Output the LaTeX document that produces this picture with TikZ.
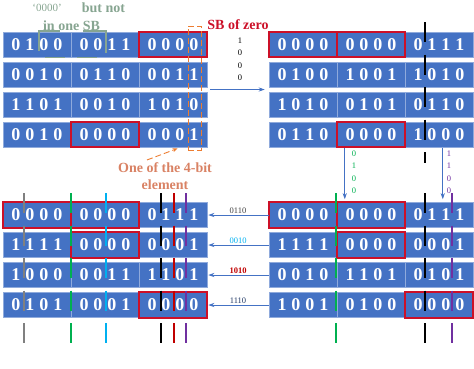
\documentclass[tikz,border=0pt]{standalone}
\usepackage{fontspec}
\setmainfont{Liberation Serif}
\usetikzlibrary{calc,arrows.meta}
\definecolor{cellblue}{RGB}{68,114,196}
\definecolor{celledge}{RGB}{143,170,220}
\definecolor{sbred}{RGB}{204,16,40}
\definecolor{annogreen}{RGB}{135,165,145}
\definecolor{elemorange}{RGB}{237,125,49}
\definecolor{elemtext}{RGB}{217,130,100}
\definecolor{bargray}{RGB}{128,128,128}
\definecolor{bargreen}{RGB}{0,176,80}
\definecolor{barcyan}{RGB}{0,176,240}
\definecolor{barred}{RGB}{192,0,0}
\definecolor{barpurple}{RGB}{112,48,160}
\definecolor{labnavy}{RGB}{32,56,100}
\newcommand{\bits}[4]{#1\kern5pt#2\kern5pt#3\kern5pt#4}

\tikzset{
  cell/.style={fill=cellblue,draw=celledge,line width=.5pt,minimum width=68pt,minimum height=25pt,
    inner sep=0pt,text=white,font=\fontsize{18}{18}\selectfont\bfseries},
  sbbox/.style={draw=sbred,line width=1.6pt},
  bar/.style={line width=2pt,dash pattern=on 20pt off 12.5pt},
  flow/.style={draw=cellblue,line width=.8pt,-{Stealth[length=6pt,width=4pt]}},
  anno/.style={font=\fontsize{14}{14}\selectfont\bfseries},
  small/.style={font=\fontsize{8.5}{12.5}\selectfont,align=center,inner sep=1.5pt}
}

\begin{document}
\begin{tikzpicture}[x=1pt,y=-1pt]
\useasboundingbox (0,0) rectangle (474,368);

% the four blocks of 4-bit elements
\foreach \row/\ca/\cb/\cc in {1/0100/0011/0000,2/0010/0110/0011,3/1101/0010/1010,4/0010/0000/0001} {
  \node[cell] (tl-\row-1) at (37,14.5+30*\row) {\expandafter\bits\ca};
  \node[cell] (tl-\row-2) at (105,14.5+30*\row) {\expandafter\bits\cb};
  \node[cell] (tl-\row-3) at (173,14.5+30*\row) {\expandafter\bits\cc};}
\foreach \row/\ca/\cb/\cc in {1/0000/0000/0111,2/0100/1001/1010,3/1010/0101/0110,4/0110/0000/1000} {
  \node[cell] (tr-\row-1) at (303,14.5+30*\row) {\expandafter\bits\ca};
  \node[cell] (tr-\row-2) at (371,14.5+30*\row) {\expandafter\bits\cb};
  \node[cell] (tr-\row-3) at (439,14.5+30*\row) {\expandafter\bits\cc};}
\foreach \row/\ca/\cb/\cc in {1/0000/0000/0111,2/1111/0000/0001,3/1000/0011/1101,4/0101/0001/0000} {
  \node[cell] (bl-\row-1) at (37,185+30*\row) {\expandafter\bits\ca};
  \node[cell] (bl-\row-2) at (105,185+30*\row) {\expandafter\bits\cb};
  \node[cell] (bl-\row-3) at (173,185+30*\row) {\expandafter\bits\cc};}
\foreach \row/\ca/\cb/\cc in {1/0000/0000/0111,2/1111/0000/0001,3/0010/1101/0101,4/1001/0100/0000} {
  \node[cell] (br-\row-1) at (303,185+30*\row) {\expandafter\bits\ca};
  \node[cell] (br-\row-2) at (371,185+30*\row) {\expandafter\bits\cb};
  \node[cell] (br-\row-3) at (439,185+30*\row) {\expandafter\bits\cc};}

% SBs of zero
\foreach \n in {tl-1-3,tl-4-2,tr-1-1,tr-1-2,tr-4-2,bl-1-1,bl-1-2,bl-2-2,bl-4-3,br-1-1,br-1-2,br-2-2,br-4-3}
  \draw[sbbox] (\n.north west) rectangle (\n.south east);

% '0000' but not in one SB
\node[font=\fontsize{11}{11}\selectfont,text=annogreen] (q0) at (47,8) {\textquoteleft0000\textquoteright};
\node[anno,text=annogreen] (butnot) at (103.5,8) {but not};
\node[anno,text=annogreen] (inone) at (71.5,26) {in one SB};
\draw [line width=1.5pt,annogreen] (60,31) -- (39,31) -- (39,51);
\draw [line width=1.5pt,annogreen] (83,31) -- (106,31) -- (106,53);
\draw [line width=1.5pt,annogreen] (45,57.5) -- (65,57.5);
\draw [line width=1.5pt,annogreen] (77,57.5) -- (97,57.5);

% one 4-bit element
\node[anno,text=sbred] (sbzero) at (238,25) {SB of zero};
\node[draw=elemorange,dash pattern=on 6pt off 3pt,line width=.9pt,minimum width=13pt,minimum height=124pt,inner sep=0pt] (elem) at (194.5,88) {};
\node[anno,text=elemtext,align=center,font=\fontsize{14}{17}\selectfont\bfseries] (elemtxt) at (165,176) {One of the 4-bit\\element};
\draw[elemorange,dash pattern=on 6pt off 3pt,line width=.9pt,-{Stealth[length=5pt,width=4pt]}] ([xshift=-18pt,yshift=-1pt]elemtxt.north) -- ([xshift=-10pt,yshift=2pt]elem.south west);

% sorting
\node[small] (tlbits) at (240,59) {1\\0\\0\\0};
\draw[flow,shorten <=3pt,shorten >=4pt] ($(tl-2-3.south east)!.5!(tl-3-3.north east)$) -- ($(tr-2-1.south west)!.5!(tr-3-1.north west)$);
\node[small,text=bargreen] (grbits) at (354,172) {0\\1\\0\\0};
\node[small,text=barpurple] (pubits) at (449,172) {1\\1\\0\\0};
\draw[flow,shorten <=1pt,shorten >=3pt] ([xshift=8pt]tr-4-2.south west) -- ([xshift=8pt]br-1-2.north west);
\draw[flow,shorten <=1pt,shorten >=3pt] ([xshift=38pt]tr-4-3.south west) -- ([xshift=38pt]br-1-3.north west);
\foreach \row/\lab/\col in {1/0110/black!75,2/0010/barcyan,3/\textbf{1010}/barred,4/1110/labnavy}
  \draw[flow,shorten >=1pt] (br-\row-1.west) -- node[small,above,text=\col] (lab-\row) {\lab} (bl-\row-3.east);

% sampling bars
\draw[bar,black] (425,22) -- (425,163);
\foreach \x/\col in {24/bargray,71/bargreen,106/barcyan,161/black,174/barred,186/barpurple,336/bargreen,425/black,452/barpurple}
  \draw[bar,\col] (\x,193) -- (\x,343);
\end{tikzpicture}
\end{document}
